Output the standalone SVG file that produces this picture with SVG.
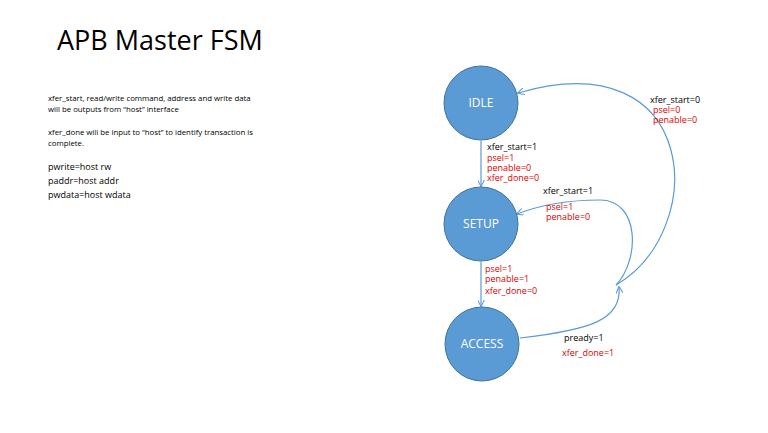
<svg xmlns="http://www.w3.org/2000/svg" width="768" height="433" viewBox="0 0 768 433">
<defs>
<marker id="ah" viewBox="0 0 10 10" refX="9" refY="5" markerWidth="7" markerHeight="7" orient="auto" markerUnits="userSpaceOnUse"><path d="M0,0 L10,5 L0,10" fill="none" stroke="#5B9BD5" stroke-width="1.5"/></marker>
</defs>
<style>
text{font-family:"Open Sans","Liberation Sans",sans-serif}
.st{fill:#5B9BD5;stroke:#41719C;stroke-width:1}
.sl{fill:#fff;font-size:12px;text-anchor:middle}
.e{fill:none;stroke:#5B9BD5;stroke-width:1.2;marker-end:url(#ah)}
.b{font-size:9px;fill:#000}
.r{font-size:9px;fill:#E00000}
.n{font-size:7.8px;fill:#000}
</style>
<rect width="768" height="433" fill="#fff"/>
<text x="57" y="50" font-size="27" fill="#000">APB Master FSM</text>
<text class="n" x="48" y="101">xfer_start, read/write command, address and write data</text>
<text class="n" x="48" y="112">will be outputs from “host” interface</text>
<text class="n" x="48" y="135">xfer_done will be input to “host” to identify transaction is</text>
<text class="n" x="48" y="146">complete.</text>
<text class="b" x="48" y="170">pwrite=host rw</text>
<text class="b" x="48" y="184">paddr=host addr</text>
<text class="b" x="48" y="198">pwdata=host wdata</text>
<g id="connectors">
<path class="e" d="M481,141 L481,186"/>
<path class="e" d="M481,262 L481,306"/>
<path class="e" d="M616,285 C710,230 700,40 518,93"/>
<path class="e" d="M616,285 C640,260 640,200 600,200 C570,200 540,205 517,214"/>
<path class="e" d="M520,338 C590,330 622,320 619,287"/>
</g>
<g id="IDLE"><circle class="st" cx="481" cy="103" r="37"/><text class="sl" x="481" y="107">IDLE</text></g>
<g id="SETUP"><circle class="st" cx="481" cy="224" r="37"/><text class="sl" x="481" y="228">SETUP</text></g>
<g id="ACCESS"><circle class="st" cx="482" cy="344" r="37"/><text class="sl" x="482" y="348" font-size="11">ACCESS</text></g>
<text class="b" x="487" y="150">xfer_start=1</text>
<text class="r" x="487" y="161">psel=1</text>
<text class="r" x="487" y="171">penable=0</text>
<text class="r" x="487" y="181">xfer_done=0</text>
<text class="b" x="543" y="194">xfer_start=1</text>
<text class="r" x="546" y="210">psel=1</text>
<text class="r" x="546" y="220">penable=0</text>
<text class="r" x="485" y="272">psel=1</text>
<text class="r" x="485" y="282">penable=1</text>
<text class="r" x="485" y="294">xfer_done=0</text>
<text class="b" x="650" y="103">xfer_start=0</text>
<text class="r" x="653" y="113">psel=0</text>
<text class="r" x="653" y="123">penable=0</text>
<text class="b" x="564" y="341">pready=1</text>
<text class="r" x="562" y="356">xfer_done=1</text>
</svg>
